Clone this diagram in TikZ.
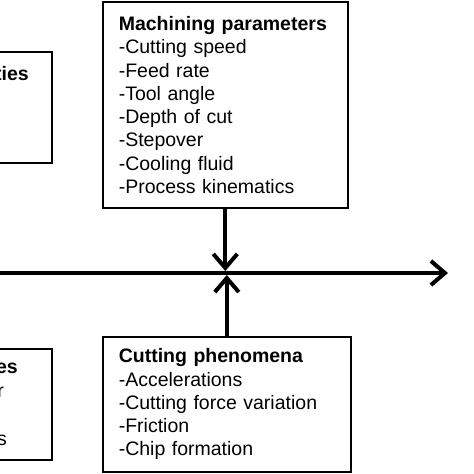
\documentclass[tikz,border=0pt]{standalone}
\usepackage{fontspec}
\setmainfont{Liberation Sans}
\usetikzlibrary{arrows.meta, positioning}

\begin{document}
\begin{tikzpicture}[x=1pt, y=-1pt,
  >={Straight Barb[length=14pt, width=24pt]},
  listbox/.style={draw, line width=1.6pt, anchor=north west, align=left,
                  inner xsep=16pt, font=\fontsize{19.5}{23.3}\selectfont},
  sidebox/.style={draw, line width=1.6pt, anchor=north east,
                  minimum width=140pt, minimum height=111pt},
  cut/.style={font=\fontsize{19.5}{23.3}\selectfont, anchor=base east, inner sep=0pt},
  flow/.style={line width=4pt, ->},
]

% Page frame
\useasboundingbox (0,0) rectangle (474,474);
\clip (0,0) rectangle (474,474);

% ============ Boxes cut by the left edge ============
\node[sidebox] (proptop) at (53,51) {};
\node[cut, font=\fontsize{19.5}{23.3}\selectfont\bfseries] (proptoptext) at (29,80) {ties};

\node[sidebox] (propbot) at (53,348) {};
\node[cut, font=\fontsize{19.5}{23.3}\selectfont\bfseries] (propbottext) at (18,373) {es};
\node[cut] (propbotr) at (4,397) {r};
\node[cut] (propbots) at (7,445) {s};

% ============ Machining parameters ============
\node[listbox, text width=213pt, inner ysep=14.5pt] (machining) at (102,1) {%
  \textbf{Machining parameters}\\
  -Cutting speed\\
  -Feed rate\\
  -Tool angle\\
  -Depth of cut\\
  -Stepover\\
  -Cooling fluid\\
  -Process kinematics};

% ============ Cutting phenomena ============
\node[listbox, text width=216pt, minimum height=135pt] (phenomena) at (102,336) {%
  \textbf{Cutting phenomena}\\
  -Accelerations\\
  -Cutting force variation\\
  -Friction\\
  -Chip formation};

% ============ Main axis ============
\coordinate (axisstart) at (0,273);
\coordinate (axisend) at (448,273);
\coordinate (cross) at (225,273);
\draw[flow] (axisstart) -- (axisend);

% Arrows into the axis
\draw[flow, shorten >=2pt] (machining.south) -- (machining.south |- cross);
\draw[flow, shorten >=2pt] (phenomena.north) -- (phenomena.north |- cross);

\end{tikzpicture}
\end{document}
